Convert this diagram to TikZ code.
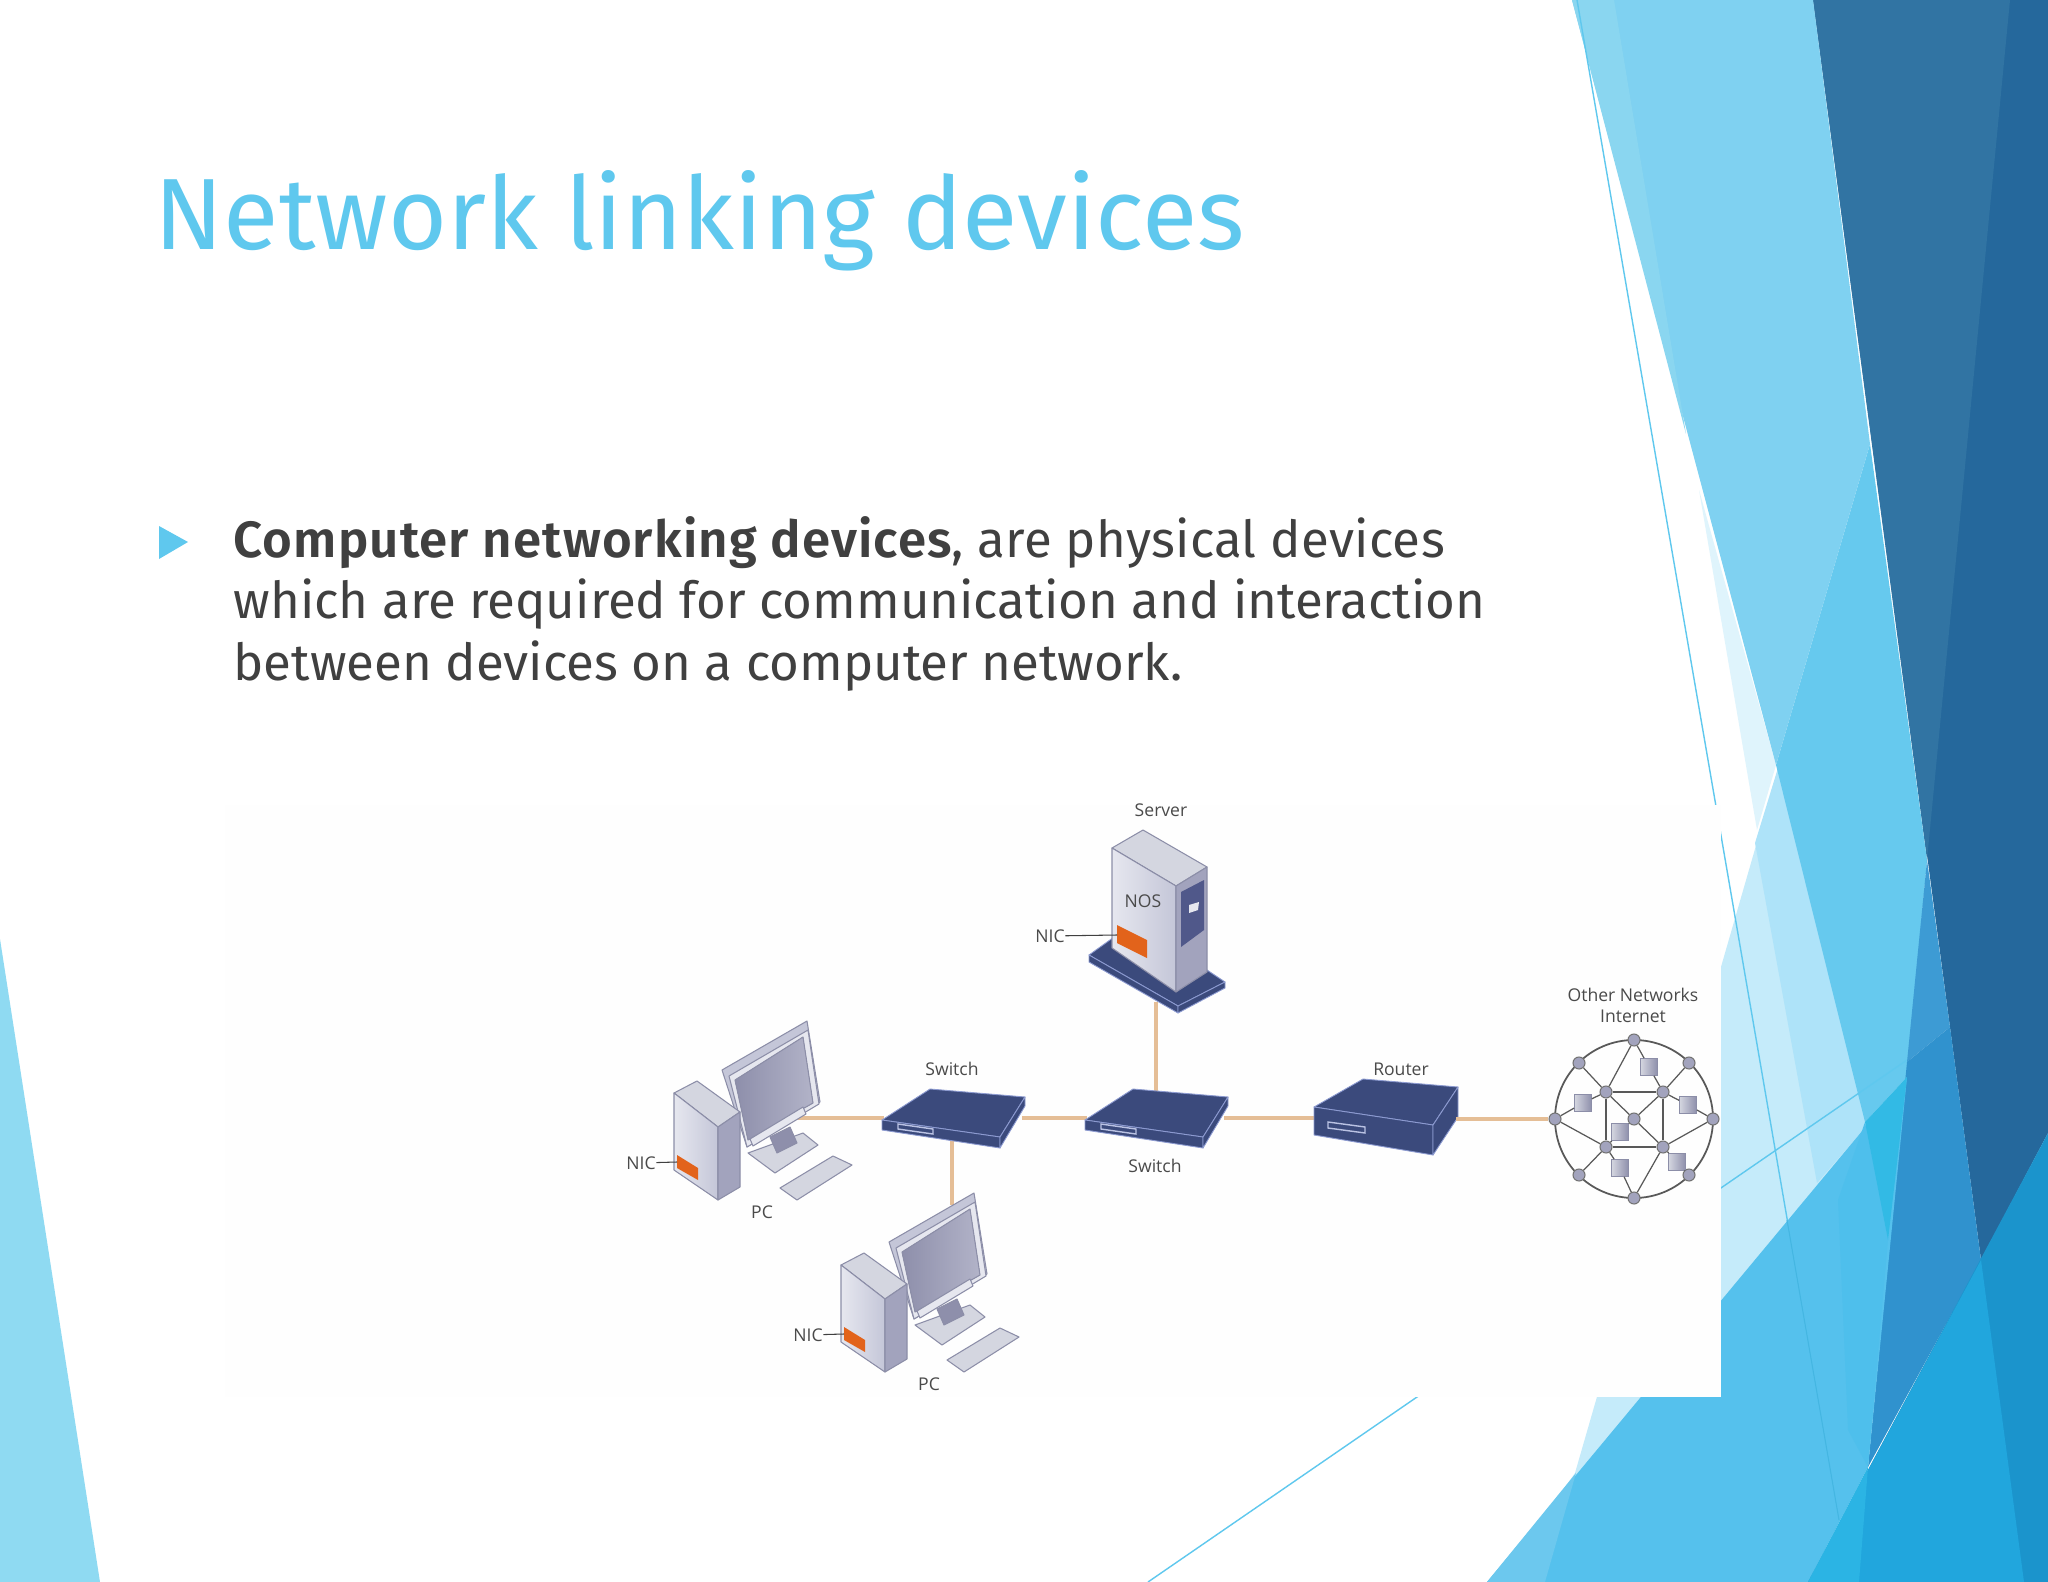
\documentclass[tikz,border=0pt]{standalone}
\usepackage{fontspec}
\setmainfont{Fira Sans}
\newfontfamily\labelfont{Open Sans}
\newfontfamily\leadfont[LetterSpace=2.2]{Fira Sans SemiBold}

\definecolor{skyline}{HTML}{5FC8EE}
\definecolor{ruledeep}{HTML}{44B6E2}
\definecolor{bodygrey}{HTML}{404040}
\definecolor{labelgrey}{HTML}{4A4A4A}
\definecolor{cabletan}{HTML}{E5BE96}
\definecolor{navybox}{HTML}{3B4A7C}
\definecolor{navyedge}{HTML}{8C9AD0}
\definecolor{caseline}{HTML}{8C8EA8}
\definecolor{nicorange}{HTML}{E2631B}
\definecolor{caselight}{HTML}{E6E7EF}
\definecolor{casetop}{HTML}{D4D6E0}
\definecolor{casemid}{HTML}{C4C6D8}
\definecolor{caseside}{HTML}{A2A3BD}
\definecolor{screendark}{HTML}{8E8FAB}
\definecolor{screenlight}{HTML}{B2B3C8}
\definecolor{panelblue}{HTML}{50588A}

\definecolor{wedgeleft}{HTML}{8FDAF2}
\definecolor{deepblue}{HTML}{25689C}
\definecolor{steelblue}{HTML}{3174A3}
\definecolor{palesky}{HTML}{C5EBFA}
\definecolor{softsky}{HTML}{AEE3F9}
\definecolor{faintsky}{HTML}{DFF4FC}
\definecolor{midsky}{HTML}{66C9EE}
\definecolor{bandsky}{HTML}{7FD1F1}
\definecolor{bandedge}{HTML}{8AD6F0}
\definecolor{slateblue}{HTML}{3D9BD4}
\definecolor{oceanblue}{HTML}{3092CE}
\definecolor{lowsky}{HTML}{55C1ED}
\definecolor{lowedge}{HTML}{6CC8EE}
\definecolor{lowmid}{HTML}{4EBFEC}
\definecolor{lowtip}{HTML}{32BAE5}
\definecolor{tealdark}{HTML}{1B94CC}
\definecolor{tealmid}{HTML}{21A6DD}
\definecolor{teallight}{HTML}{2BB4E4}
\definecolor{photowhite}{HTML}{FEFEFE}

\tikzset{
  slidetitle/.style={anchor=base west, inner sep=0pt, text=skyline, font=\fontsize{28.8}{36}\selectfont},
  bodyline/.style={anchor=base west, inner sep=0pt, text=bodygrey, font=\fontsize{14.5}{18}\selectfont},
  devlabel/.style={inner sep=0pt, text=labelgrey, font=\labelfont\fontsize{5}{6.5}\selectfont},
  cable/.style={cabletan, line width=1pt},
  leader/.style={black!75, line width=0.3pt},
  thinrule/.style={skyline, line width=0.4pt},
  boxface/.style={fill=navybox, draw=navyedge, line width=0.25pt, line join=round},
  caseface/.style={draw=caseline, line width=0.3pt, line join=round},
  gridnode/.style={circle, fill=caseside, draw=gray!90!black, line width=0.3pt, minimum size=0.12cm, inner sep=0pt},
  gridlink/.style={draw=gray!70!black, line width=0.35pt},
  gridhost/.style={rectangle, left color=casetop, right color=screendark, draw=caseline, line width=0.2pt, minimum size=0.17cm, inner sep=0pt},
}

\newcommand{\netbox}[1]{
  \begin{scope}[shift={(#1)}]
    \filldraw[boxface] (882, 1120) -- (930, 1089) -- (1025, 1097) -- (1000, 1137) -- cycle;
    \filldraw[boxface] (882, 1120) -- (1000, 1137) -- (1000, 1148) -- (882, 1130) -- cycle;
    \filldraw[boxface] (1000, 1137) -- (1025, 1097) -- (1025, 1106) -- (1000, 1148) -- cycle;
    \draw[navyedge!60!white, line width=0.4pt] (898, 1124) -- (933, 1129) -- (933, 1134) -- (898, 1129) -- cycle;
  \end{scope}
}

\newcommand{\pcset}[2]{
  \begin{scope}[shift={(#2)}]
    \filldraw[caseface, fill=casemid] (722, 1070) -- (807, 1021) -- (820, 1102) -- (747, 1147) -- cycle;
    \filldraw[caseface, fill=caselight] (729, 1076) -- (808, 1030) -- (819, 1104) -- (747, 1147) -- cycle;
    \filldraw[caseface, left color=screendark, right color=screenlight] (735, 1080) -- (803, 1037) -- (813, 1103) -- (748, 1140) -- cycle;
    \filldraw[caseface, fill=casetop] (748, 1153) -- (803, 1133) -- (818, 1145) -- (775, 1173) -- cycle;
    \filldraw[caseface, fill=screendark] (770, 1137) -- (790, 1127) -- (797, 1143) -- (777, 1153) -- cycle;
    \filldraw[caseface, fill=caselight] (750, 1139) -- (803, 1107) -- (806, 1114) -- (753, 1146) -- cycle;
    \filldraw[caseface, fill=casetop] (780, 1188) -- (833, 1156) -- (852, 1165) -- (797, 1200) -- cycle;
    \filldraw[caseface, fill=casetop] (674, 1093) -- (697, 1081) -- (740, 1112) -- (718, 1127) -- cycle;
    \filldraw[caseface, left color=caselight, right color=casemid] (674, 1093) -- (718, 1127) -- (718, 1200) -- (674, 1170) -- cycle;
    \filldraw[caseface, fill=caseside] (718, 1127) -- (740, 1112) -- (740, 1187) -- (718, 1200) -- cycle;
    \fill[nicorange] (677, 1155) -- (698, 1168) -- (698, 1180) -- (677, 1168) -- cycle;
    \coordinate (#1card) at (677, 1162);
    \node[devlabel] (#1nic) at (641, 1163) {NIC};
    \node[devlabel] (#1name) at (762, 1212) {PC};
    \draw[leader] (#1nic) -- (#1card);
  \end{scope}
}

\begin{document}
\begin{tikzpicture}[x=0.01cm, y=-0.01cm]
  \useasboundingbox (0, 0) rectangle (2048, 1582);
  \fill[white] (0, 0) rectangle (2048, 1582);

  \fill[wedgeleft] (0, 939) -- (0, 1582) -- (100, 1582) -- cycle;

  \fill[deepblue] (1813, 0) -- (2048, 0) -- (2048, 1133) -- (1981, 1260) -- cycle;
  \fill[steelblue] (1813, 0) -- (2010, 0) -- (1927, 860) -- cycle;

  \fill[palesky] (1785, 745) -- (1575, 1473) -- (1500, 1582) -- (1870, 1122) -- cycle;
  \fill[softsky] (1755, 843) -- (1785, 745) -- (1870, 1122) -- (1817, 1183) -- cycle;
  \fill[faintsky] (1699, 490) -- (1757, 830) -- (1776, 765) -- cycle;

  \fill[midsky] (1776, 765) -- (1870, 444) -- (1927, 860) -- (1907, 1077) -- (1865, 1122) -- cycle;
  \fill[bandsky] (1572, 0) -- (1813, 0) -- (1870, 444) -- (1776, 765) -- cycle;
  \fill[bandedge] (1572, 0) -- (1614, 0) -- (1686, 434) -- cycle;

  \draw[thinrule] (1577, 0) -- (1839, 1520);
  \draw[thinrule] (1148, 1582) -- (1907, 1060);

  \fill[slateblue] (1927, 860) -- (1950, 1027) -- (1907, 1062) -- cycle;
  \fill[oceanblue] (1907, 1062) -- (1950, 1027) -- (1981, 1260) -- (1868, 1467) -- cycle;

  \fill[lowsky] (1487, 1582) -- (1907, 1077) -- (1868, 1467) -- (1808, 1582) -- cycle;
  \fill[lowedge] (1487, 1582) -- (1576, 1473) -- (1545, 1582) -- cycle;
  \fill[lowmid] (1865, 1122) -- (1888, 1240) -- (1868, 1467) -- (1848, 1430) -- (1838, 1200) -- cycle;
  \fill[lowtip] (1865, 1122) -- (1907, 1077) -- (1888, 1240) -- cycle;
  \draw[ruledeep, line width=0.3pt] (1787, 1220) -- (1839, 1520);

  \fill[tealdark] (2048, 1133) -- (2048, 1582) -- (1808, 1582) -- cycle;
  \fill[tealmid] (1981, 1260) -- (2024, 1582) -- (1808, 1582) -- cycle;
  \fill[teallight] (1868, 1467) -- (1859, 1582) -- (1808, 1582) -- cycle;

  \fill[photowhite] (225, 805) rectangle (1721, 1397);

  \node[slidetitle] (title) at (154, 249) {Network linking devices};

  \fill[skyline] (159, 526) -- (188, 542) -- (159, 559) -- cycle;
  \node[bodyline] (lineone) at (233, 557) {{\leadfont Computer networking devices}\addfontfeature{LetterSpace=0.6}, are physical devices};
  \node[bodyline] (linetwo) at (233, 618) {which are required for communication and interaction};
  \node[bodyline] (linethree) at (233, 680) {between devices on a computer network.};

  \coordinate (pcaport) at (798, 1118);
  \coordinate (swaleft) at (884, 1118);
  \coordinate (swaright) at (1022, 1118);
  \coordinate (swadown) at (952, 1140);
  \coordinate (pcbport) at (952, 1205);
  \coordinate (swbleft) at (1087, 1118);
  \coordinate (swbright) at (1224, 1118);
  \coordinate (swbup) at (1156, 1095);
  \coordinate (srvdown) at (1156, 1002);
  \coordinate (routerleft) at (1316, 1118);
  \coordinate (routerright) at (1456, 1119);

  \draw[cable] (pcaport) -- (swaleft);
  \draw[cable] (swaright) -- (swbleft);
  \draw[cable] (swadown) -- (pcbport);
  \draw[cable] (swbup) -- (srvdown);
  \draw[cable] (swbright) -- (routerleft);

  \pcset{pca}{0, 0}
  \pcset{pcb}{167, 172}

  \netbox{0, 0}
  \netbox{203, 0}
  \node[devlabel] (swalabel) at (952, 1069) {Switch};
  \node[devlabel] (swblabel) at (1155, 1166) {Switch};

  \filldraw[boxface] (1089, 955) -- (1135, 922) -- (1225, 982) -- (1178, 1006) -- cycle;
  \filldraw[boxface] (1089, 955) -- (1178, 1006) -- (1178, 1013) -- (1089, 962) -- cycle;
  \filldraw[boxface] (1178, 1006) -- (1225, 982) -- (1225, 988) -- (1178, 1013) -- cycle;
  \filldraw[caseface, fill=casetop] (1112, 848) -- (1143, 830) -- (1207, 867) -- (1176, 886) -- cycle;
  \filldraw[caseface, left color=caselight, right color=casemid] (1112, 848) -- (1176, 886) -- (1176, 992) -- (1112, 948) -- cycle;
  \filldraw[caseface, fill=caseside] (1176, 886) -- (1207, 867) -- (1207, 972) -- (1176, 992) -- cycle;
  \fill[panelblue] (1181, 892) -- (1204, 880) -- (1204, 930) -- (1181, 947) -- cycle;
  \fill[caselight] (1189, 905) -- (1199, 902) -- (1198, 910) -- (1189, 913) -- cycle;
  \fill[nicorange] (1117, 925) -- (1147, 940) -- (1147, 958) -- (1117, 943) -- cycle;
  \coordinate (srvcard) at (1117, 935);
  \node[devlabel] (srvnic) at (1050, 936) {NIC};
  \node[devlabel] (srvnos) at (1143, 901) {NOS};
  \node[devlabel] (srvname) at (1161, 810) {Server};
  \draw[leader] (srvnic) -- (srvcard);

  \filldraw[boxface] (1314, 1107) -- (1363, 1079) -- (1458, 1087) -- (1433, 1125) -- cycle;
  \filldraw[boxface] (1314, 1107) -- (1433, 1125) -- (1433, 1155) -- (1314, 1135) -- cycle;
  \filldraw[boxface] (1433, 1125) -- (1458, 1087) -- (1458, 1117) -- (1433, 1155) -- cycle;
  \draw[navyedge!60!white, line width=0.4pt] (1328, 1122) -- (1365, 1127) -- (1365, 1133) -- (1328, 1128) -- cycle;
  \node[devlabel] (routerlabel) at (1401, 1069) {Router};

  \node[devlabel] (gridname) at (1633, 995) {Other Networks};
  \node[devlabel] (gridtype) at (1633, 1016) {Internet};

  \coordinate (gridcentre) at (1634, 1119);
  \draw[gridlink, line width=0.5pt] (gridcentre) circle (79);

  \node[gridnode] (gt) at (1634, 1040) {};
  \node[gridnode] (gul) at (1579, 1063) {};
  \node[gridnode] (gur) at (1689, 1063) {};
  \node[gridnode] (gl) at (1555, 1119) {};
  \node[gridnode] (gr) at (1713, 1119) {};
  \node[gridnode] (gll) at (1579, 1175) {};
  \node[gridnode] (glr) at (1689, 1175) {};
  \node[gridnode] (gb) at (1634, 1198) {};
  \node[gridnode] (ga) at (1606, 1092) {};
  \node[gridnode] (gc) at (1663, 1092) {};
  \node[gridnode] (gm) at (1634, 1119) {};
  \node[gridnode] (gd) at (1606, 1147) {};
  \node[gridnode] (ge) at (1663, 1147) {};

  \node[gridhost] (hosta) at (1649, 1067) {};
  \node[gridhost] (hostb) at (1583, 1103) {};
  \node[gridhost] (hostc) at (1688, 1105) {};
  \node[gridhost] (hostd) at (1620, 1132) {};
  \node[gridhost] (hoste) at (1620, 1168) {};
  \node[gridhost] (hostf) at (1677, 1162) {};

  \foreach \from/\to in {gt/ga, gul/ga, gur/gc, ga/gc, ga/gm, gc/gm, gm/ge, ga/gd, gc/ge, gd/ge, gd/gl, ge/gr, gd/gll, ge/gb} {
    \draw[gridlink] (\from) -- (\to);
  }
  \foreach \from/\to in {gt/hosta, hosta/gc, gl/hostb, hostb/ga, gc/hostc, hostc/gr, gm/hostd, hostd/gd, gd/hoste, hoste/gb, ge/hostf, hostf/glr} {
    \draw[gridlink] (\from) -- (\to);
  }

  \draw[cable] (routerright) -- (gl);
\end{tikzpicture}
\end{document}
